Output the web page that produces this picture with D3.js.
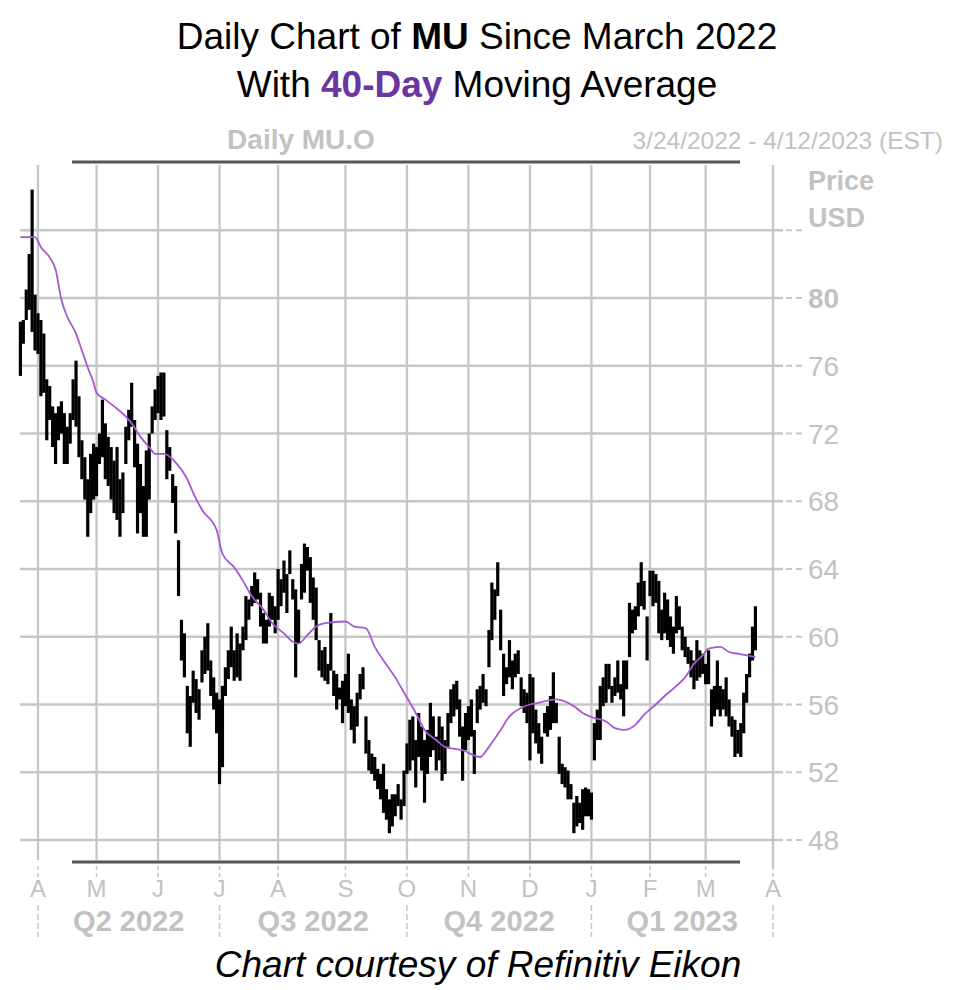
<!DOCTYPE html>
<html><head><meta charset="utf-8">
<script src="https://cdn.jsdelivr.net/npm/d3@7"></script>
<style>body{margin:0;background:#fff;} svg{display:block;}</style>
</head><body><svg id="c" width="959" height="990"></svg>
<script>
// ---- data (trading-day index 0 = 3/24/2022) ----
const highs = [
78.6,78.7,80.5,82.6,86.4,80.2,79.1,78.7,77.9,75.2, 74.8,73.6,73.2,73.6,73.9,73.2,72.4,73.2,75.2,76.3,
74.2,71.6,70.6,69.3,70.8,71.4,71.2,72.0,74.0,72.6, 71.8,71.2,70.4,71.2,69.3,69.7,72.4,73.4,75.0,72.8,
71.4,70.2,68.9,71.0,72.0,73.6,74.6,75.4,75.6,75.6,
72.2,71.2,69.6,68.9,65.7,61.0,60.2,57.1,56.5,58.0, 57.5,56.9,59.2,60.0,60.8,58.6,57.6,56.7,56.3,57.1,
58.2,59.2,60.6,59.2,60.2,59.6,60.6,62.4,62.2,63.0, 63.8,63.4,62.6,61.4,61.0,62.6,62.4,61.8,64.0,63.4,
64.5,63.7,65.1,63.4,62.8,61.6,64.3,65.5,65.3,
64.7,63.5,62.9,59.8,59.2,59.4,58.4,61.4,58.0,57.8, 57.0,57.4,57.8,59.0,56.3,55.9,56.7,57.8,58.2,55.3,
53.9,53.1,52.9,52.2,51.9,52.5,51.0,50.4,50.7,50.7, 51.3,50.4,52.1,53.7,55.1,55.3,53.9,55.5,54.7,53.9,
54.5,56.1,55.3,54.1,55.3,54.7,53.9,55.5,
56.9,57.2,57.4,56.3,54.7,55.5,55.9,56.3,54.5,56.9, 57.1,57.8,56.9,60.4,63.2,62.8,64.4,61.6,59.0,58.2,
59.8,58.6,59.0,59.2,57.6,56.9,56.7,57.8,57.6,55.7, 54.9,54.1,55.5,55.9,56.5,57.9,56.1,54.1,52.5,52.3,
52.1,51.3,50.2,50.6,50.2,51.0,51.1,51.0,50.8,54.9, 55.7,
57.1,57.6,58.4,58.4,57.1,57.6,58.6,57.2,58.6,58.6, 62.0,61.6,61.8,63.2,64.4,63.3,61.2,63.9,63.9,63.7,
63.3,61.6,62.6,62.2,61.2,60.6,62.4,61.8,60.6,60.0, 59.4,59.2,58.6,59.8,59.2,59.0,58.4,59.2,56.9,57.1,
58.6,57.1,56.9,57.6,56.3,55.3,55.1,54.5,54.9,56.7, 57.8,59.0,60.6,61.8
];
const lows = [
75.4,77.3,78.7,79.3,78.0,76.9,76.7,74.2,74.4,71.6, 72.8,71.2,70.2,71.6,72.0,70.2,70.2,71.4,72.8,72.4,
70.6,69.3,68.1,65.9,67.3,68.1,68.3,70.2,70.6,69.3, 68.9,68.1,67.3,66.9,65.9,67.3,70.2,71.6,72.4,70.0,
66.1,67.3,65.9,65.9,68.1,72.0,72.8,73.2,72.8,73.0,
69.3,69.8,67.9,66.1,62.4,58.6,57.6,54.3,53.5,56.1, 55.5,55.1,57.3,57.8,58.0,56.5,55.7,54.3,51.3,52.3,
56.5,57.5,58.2,57.4,57.6,57.4,59.2,59.8,61.0,61.8, 62.0,62.2,60.6,59.6,59.6,60.6,61.0,60.2,61.0,61.8,
62.6,61.4,63.7,62.2,57.6,59.6,62.2,62.6,63.9,
62.0,61.0,59.8,58.0,57.6,57.4,57.2,58.0,56.5,55.7, 56.3,54.9,55.9,55.5,54.5,53.7,54.7,56.3,56.9,53.1,
52.1,51.9,51.5,51.0,50.4,49.6,49.2,48.4,48.8,49.4, 50.0,49.2,50.0,51.9,52.1,52.7,51.1,52.9,52.1,50.2,
51.9,52.9,53.3,52.1,52.7,51.5,51.9,53.5,
54.9,55.3,55.7,54.1,51.5,53.3,53.9,54.1,51.9,54.9, 55.7,56.1,55.9,58.2,59.8,61.0,62.4,59.2,56.5,57.2,
57.6,56.9,57.6,57.8,55.9,55.5,54.9,52.7,54.3,53.7, 53.1,52.5,54.3,54.1,54.5,54.9,54.9,51.9,51.3,51.1,
50.4,50.4,48.4,48.8,49.0,48.6,49.4,49.4,49.2,52.7, 53.9,
53.9,55.9,56.1,56.9,56.1,56.5,56.7,56.3,55.3,56.9, 58.8,60.2,60.4,61.2,61.8,61.6,58.6,62.4,61.8,62.0,
60.2,59.8,60.2,59.8,59.4,59.0,60.2,60.4,59.2,58.8, 58.4,57.6,56.9,57.4,57.6,57.8,57.2,57.2,54.7,55.3,
55.7,55.3,55.7,55.3,54.7,54.1,52.9,53.1,52.9,54.3, 56.1,57.6,58.6,59.2
];
// 40-day moving average, read at selected trading days
const maDays   = [0,5,7,10,12,14,16,19,21,23,25,26,29,32,36,38,41,44,46,49,53,57,59,62,67,69,73,76,79,83,86,90,93,95,98,101,104,111,114,118,121,124,128,131,135,138,142,145,151,157,160,164,167,171,174,177,183,189,192,196,200,203,206,210,213,217,220,224,227,230,233,235,239,242,245,251];
const maValues = [83.6,83.6,83.0,82.4,81.7,79.9,78.9,77.9,76.9,75.9,75.0,74.4,74.0,73.6,73.0,72.6,71.8,71.2,70.8,70.8,70.3,69.3,68.5,67.5,66.3,64.9,64.1,63.3,62.4,61.6,60.8,60.2,59.7,59.6,60.1,60.6,60.8,60.9,60.6,60.5,59.4,58.6,57.6,56.7,55.5,54.5,53.9,53.5,53.3,52.9,53.5,54.5,55.3,55.8,56.0,56.1,56.3,55.9,55.5,55.2,55.0,54.6,54.5,54.8,55.4,56.0,56.5,57.1,57.6,58.4,58.9,59.3,59.4,59.1,59.0,58.8];

const priceLabels = [48,52,56,60,64,68,72,76,80];
const gridPrices = [48,52,56,60,64,68,72,76,80,84];
const monthLabels = ["A","M","J","J","A","S","O","N","D","J","F","M","A"];
const monthStartDay = [6,26,47,68,88,111,132,153,174,195,215,234,257];
const quarterLabels = ["Q2 2022","Q3 2022","Q4 2022","Q1 2023"];
const quarterStartDay = [6,68,132,195,257];

// ---- drawing ----
const svg = d3.select("#c");
const GRAY = "#c6c6c6", LABEL = "#c2c2c2";
const x = d3.scaleLinear().domain([0, 257]).range([20.4, 773]);
const y = d3.scaleLinear().domain([48, 80]).range([840, 298]);
const plotTop = 165, plotBottom = 860;

// title
const t1 = svg.append("text").attr("x", 477).attr("y", 49).attr("text-anchor", "middle")
  .attr("font-family", "Liberation Sans, Arial, sans-serif").attr("font-size", 37).attr("fill", "#000");
t1.append("tspan").text("Daily Chart of ");
t1.append("tspan").attr("font-weight", "bold").text("MU");
t1.append("tspan").text(" Since March 2022");
const t2 = svg.append("text").attr("x", 477).attr("y", 97).attr("text-anchor", "middle")
  .attr("font-family", "Liberation Sans, Arial, sans-serif").attr("font-size", 37).attr("fill", "#000");
t2.append("tspan").text("With ");
t2.append("tspan").attr("font-weight", "bold").attr("fill", "#6b36a3").text("40-Day");
t2.append("tspan").text(" Moving Average");

// header texts
svg.append("text").attr("x", 301).attr("y", 149).attr("text-anchor", "middle")
  .attr("font-family", "Liberation Sans, Arial, sans-serif").attr("font-size", 28).attr("font-weight", "bold")
  .attr("fill", LABEL).text("Daily MU.O");
svg.append("text").attr("x", 943).attr("y", 149).attr("text-anchor", "end")
  .attr("font-family", "Liberation Sans, Arial, sans-serif").attr("font-size", 24.5)
  .attr("fill", LABEL).text("3/24/2022 - 4/12/2023 (EST)");

// horizontal gridlines + dashes
svg.append("g").selectAll("line").data(gridPrices).join("line")
  .attr("x1", 20).attr("x2", 783).attr("y1", d => y(d)).attr("y2", d => y(d))
  .attr("stroke", GRAY).attr("stroke-width", 2.3);
svg.append("g").selectAll("line").data(gridPrices).join("line")
  .attr("x1", 786).attr("x2", 806).attr("y1", d => y(d)).attr("y2", d => y(d))
  .attr("stroke", GRAY).attr("stroke-width", 2).attr("stroke-dasharray", "6,4");

// vertical gridlines
svg.append("g").selectAll("line").data(monthStartDay.slice(0, -1)).join("line")
  .attr("x1", d => x(d)).attr("x2", d => x(d)).attr("y1", plotTop).attr("y2", plotBottom)
  .attr("stroke", GRAY).attr("stroke-width", 2.3);
// right axis line
svg.append("line").attr("x1", x(257)).attr("x2", x(257)).attr("y1", plotTop).attr("y2", 868)
  .attr("stroke", GRAY).attr("stroke-width", 2.3);

// top & bottom dark rules
svg.append("line").attr("x1", 72).attr("x2", 740).attr("y1", 162).attr("y2", 162)
  .attr("stroke", "#555").attr("stroke-width", 3);
svg.append("line").attr("x1", 72).attr("x2", 740).attr("y1", 862).attr("y2", 862)
  .attr("stroke", "#555").attr("stroke-width", 3);

// y labels
svg.append("g").selectAll("text").data(priceLabels).join("text")
  .attr("x", 808).attr("y", d => y(d) + 10)
  .attr("font-family", "Liberation Sans, Arial, sans-serif").attr("font-size", 28)
  .attr("font-weight", d => d === 80 ? "bold" : "normal")
  .attr("fill", LABEL).text(d => d);
svg.append("text").attr("x", 808).attr("y", 190)
  .attr("font-family", "Liberation Sans, Arial, sans-serif").attr("font-size", 27).attr("font-weight", "bold")
  .attr("fill", LABEL).text("Price");
svg.append("text").attr("x", 808).attr("y", 227)
  .attr("font-family", "Liberation Sans, Arial, sans-serif").attr("font-size", 27).attr("font-weight", "bold")
  .attr("fill", LABEL).text("USD");

// month tick dashes and labels
svg.append("g").selectAll("line").data(monthStartDay).join("line")
  .attr("x1", d => x(d)).attr("x2", d => x(d)).attr("y1", 866).attr("y2", 880)
  .attr("stroke", GRAY).attr("stroke-width", 1.5).attr("stroke-dasharray", "4,3");
svg.append("g").selectAll("text").data(monthLabels).join("text")
  .attr("x", (d, i) => x(monthStartDay[i])).attr("y", 897).attr("text-anchor", "middle")
  .attr("font-family", "Liberation Sans, Arial, sans-serif").attr("font-size", 24)
  .attr("fill", LABEL).text(d => d);

// quarter separators and labels
svg.append("g").selectAll("line").data(quarterStartDay).join("line")
  .attr("x1", d => x(d)).attr("x2", d => x(d)).attr("y1", 905).attr("y2", 937)
  .attr("stroke", GRAY).attr("stroke-width", 1.5).attr("stroke-dasharray", "6,3");
svg.append("g").selectAll("text").data(quarterLabels).join("text")
  .attr("x", (d, i) => (x(quarterStartDay[i]) + x(quarterStartDay[i + 1])) / 2)
  .attr("y", 931).attr("text-anchor", "middle")
  .attr("font-family", "Liberation Sans, Arial, sans-serif").attr("font-size", 29).attr("font-weight", "bold")
  .attr("fill", LABEL).text(d => d);

// price bars (high-low)
svg.append("g").selectAll("line").data(highs).join("line")
  .attr("x1", (d, i) => x(i)).attr("x2", (d, i) => x(i))
  .attr("y1", d => y(d)).attr("y2", (d, i) => y(lows[i]))
  .attr("stroke", "#000").attr("stroke-width", 3.2);

// moving average
const ma = maDays.map((d, i) => [d, maValues[i]]);
svg.append("path").datum(ma)
  .attr("d", d3.line().x(d => x(d[0])).y(d => y(d[1])).curve(d3.curveMonotoneX))
  .attr("fill", "none").attr("stroke", "#a459d1").attr("stroke-width", 1.8);

// footer
svg.append("text").attr("x", 478).attr("y", 977).attr("text-anchor", "middle")
  .attr("font-family", "Liberation Sans, Arial, sans-serif").attr("font-size", 37).attr("font-style", "italic")
  .attr("fill", "#000").text("Chart courtesy of Refinitiv Eikon");
</script></body></html>
